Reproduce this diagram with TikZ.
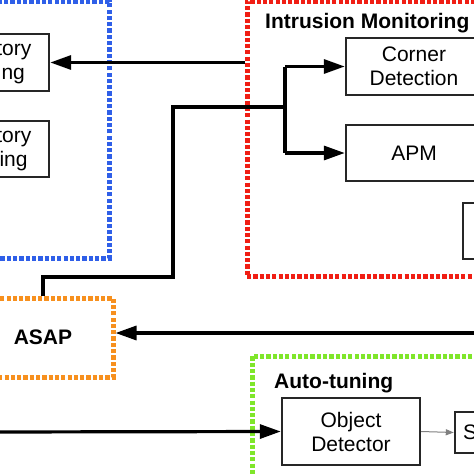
\documentclass[tikz,border=0pt]{standalone}
\usepackage{fontspec}
\setmainfont{Liberation Sans}
\usetikzlibrary{arrows.meta}
\definecolor{dblue}{HTML}{2F5FE8}
\definecolor{dred}{HTML}{F01E14}
\definecolor{dorange}{HTML}{F7901E}
\definecolor{dgreen}{HTML}{7FE62A}
\tikzset{
  dotbox/.style={draw=#1, line width=5pt, dash pattern=on 4.2pt off 2.1pt, minimum width=0pt, inner sep=0pt},
  blk/.style={draw=black!85, line width=2.4pt, fill=white, align=center, inner sep=0pt,
     font=\fontsize{21}{24}\selectfont},
  conn/.style={draw=black, line width=3.2pt, line join=miter},
  arr/.style={conn, -{Triangle[length=21pt,width=14pt]}},
  garr/.style={draw=gray, line width=1pt, -{Triangle[length=8pt,width=6pt]}},
  ttl/.style={font=\fontsize{21}{24}\selectfont\bfseries, inner sep=0pt},
}
\begin{document}
\begin{tikzpicture}[x=1pt,y=-1pt]
\useasboundingbox (0,0) rectangle (474,474);
\clip (0,0) rectangle (474,474);
\fill[white] (0,0) rectangle (474,474);
% dotted group boxes
\node[dotbox=dblue, minimum width=140pt, minimum height=257pt] (blue) at (39,129.5) {};
\node[dotbox=dred, minimum width=260pt, minimum height=275pt] (red) at (377,138.5) {};
\node[dotbox=dgreen, minimum width=260pt, minimum height=160pt] (green) at (382,436) {};
\node[dotbox=dorange, minimum width=140pt, minimum height=79pt, ttl] (asap) at (43,337.5) {ASAP};
% titles
\node[ttl, anchor=base west] (imt) at (265,28) {Intrusion Monitoring};
\node[ttl, anchor=base west] (att) at (274,388) {Auto-tuning};
% blocks
\node[blk, minimum width=128pt, minimum height=57pt] (tb1) at (-15,62.5) {Trajectory\\Tracking};
\node[blk, minimum width=128pt, minimum height=56pt] (tb2) at (-15,149) {Trajectory\\Matching};
\node[blk, minimum width=136pt, minimum height=57pt] (corner) at (414,66.5) {Corner\\Detection};
\node[blk, minimum width=136pt, minimum height=56pt] (apm) at (414,153) {APM};
\node[blk, minimum width=68pt, minimum height=56pt] (third) at (497,231) {};
\node[blk, minimum width=138pt, minimum height=67pt] (od) at (351,431.5) {Object\\Detector};
\node[blk, minimum width=70pt, minimum height=41pt, text width=54pt, inner xsep=8pt, align=left] (sbox) at (490,432.5) {S};
% coordinates
\coordinate (turn) at (173,277);
\coordinate (branch) at (285,107);
\coordinate (asapin) at (490,333);
\coordinate (odin) at (-10,432);
% connectors
\draw[arr] (tb1.east -| red.west) -- (tb1.east);
\draw[conn] (asap.north) -- (asap.north |- turn) -- (turn) -- (turn |- branch) -- (branch);
\draw[conn] (branch |- corner.west) -- (branch |- apm.west);
\draw[arr] (branch |- corner.west) -- (corner.west);
\draw[arr] (branch |- apm.west) -- (apm.west);
\draw[arr] (asapin) -- (asapin -| asap.east);
\draw[arr] (odin) -- (od.west);
\draw[garr] (od.east) -- (sbox.west);
\end{tikzpicture}
\end{document}
